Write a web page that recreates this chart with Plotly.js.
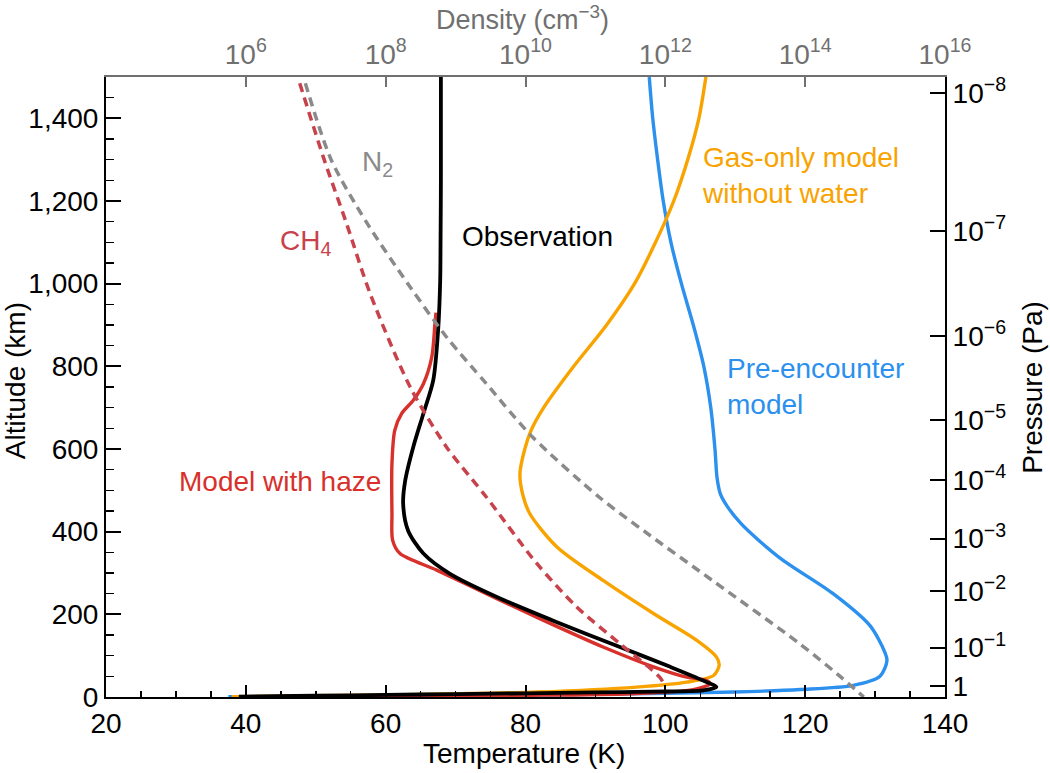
<!DOCTYPE html>
<html>
<head>
<meta charset="utf-8">
<script src="https://cdn.plot.ly/plotly-3.0.1.min.js"></script>
<style>html,body{margin:0;padding:0;background:#fff;}#chart{width:1050px;height:773px;}</style>
</head>
<body>
<div id="chart"></div>
<script>
// Temperature profiles (K) vs altitude (km)
const obsT   = [67.9, 67.9, 67.85, 67.8, 67.5, 66.8, 65.4, 63.95, 62.8, 62.5, 63.2, 65.4, 69.2, 75.9, 84.5, 93.5, 100.7, 105.4, 107.3, 105.4, 98, 90, 80, 70, 60, 50, 39];
const obsAlt = [1500, 1250, 1100, 1008, 887, 766, 686, 605, 524, 468, 403, 347, 298, 242, 181, 121, 73, 40, 24, 16, 13, 11, 9, 7, 5, 3, 1];

const hazeT   = [67.2, 67.05, 66.6, 65.4, 63.95, 62.3, 61.3, 60.9, 60.9, 61.0, 62.05, 67.3, 74.4, 82.5, 91.1, 98.3, 103.05, 105.9, 106.4, 104, 95, 80, 60, 45];
const hazeAlt = [930, 903, 823, 758, 718, 686, 645, 565, 444, 379, 347, 307, 250, 186, 121, 73, 48, 40, 32, 18, 8, 4, 2, 0.5];

const gasT   = [105.8, 104.8, 103.2, 101.2, 98.6, 95.6, 91.6, 86.9, 82.6, 80.8, 79.9, 79.2, 79.6, 80.6, 84.5, 91.1, 98.3, 104.5, 107.3, 107.7, 106.9, 103.05, 95.9, 81.6, 65, 50, 38];
const gasAlt = [1500, 1400, 1300, 1200, 1100, 1000, 900, 800, 700, 645, 600, 540, 490, 444, 363, 282, 202, 137, 97, 77, 52, 36, 24, 12, 6, 3, 1];

const preT   = [97.7, 98.2, 98.9, 99.7, 100.8, 102.3, 104.0, 105.5, 106.5, 107.1, 107.4, 107.9, 108.9, 110.8, 113.3, 116.9, 124.0, 129.3, 131.4, 131.7, 130.7, 126.9, 119.3, 109.7, 100, 80, 60, 37.5];
const preAlt = [1500, 1400, 1300, 1200, 1100, 1000, 900, 800, 700, 600, 530, 490, 460, 420, 380, 330, 250, 172, 108, 88, 50, 28, 18, 12, 9, 5, 2.5, 0.5];

// Number densities (cm^-3) vs altitude (km)
const ch4N   = [5.9e6, 1.32e7, 2.7e7, 6.0e7, 2.24e8, 7.4e8, 2.75e9, 1.45e10, 5.4e10, 2.24e11, 8.3e11, 1.0e12];
const ch4Alt = [1485, 1300, 1150, 976, 750, 605, 484, 323, 218, 129, 48, 25];

const n2N   = [7.1e6, 1.66e7, 5.25e7, 2.24e8, 7.4e8, 2.75e9, 1.26e10, 1.16e11, 5.1e11, 4.7e12, 7.9e13, 2.95e14, 6.9e14];
const n2Alt = [1485, 1300, 1150, 992, 871, 758, 629, 482, 400, 282, 132, 54, 0];

// Axis ticks
const tempTicks = [20, 40, 60, 80, 100, 120, 140];
const densTicks = [1e6, 1e8, 1e10, 1e12, 1e14, 1e16];
const densLabels = ['10<sup>6</sup>', '10<sup>8</sup>', '10<sup>10</sup>', '10<sup>12</sup>', '10<sup>14</sup>', '10<sup>16</sup>'];
const presAlt = [26, 119.6, 255.9, 383.4, 524.6, 670, 873, 1128, 1460.7];
const presLabels = ['1', '10<sup>−1</sup>', '10<sup>−2</sup>', '10<sup>−3</sup>', '10<sup>−4</sup>', '10<sup>−5</sup>', '10<sup>−6</sup>', '10<sup>−7</sup>', '10<sup>−8</sup>'];

const FONT = 'Liberation Sans, Arial, Helvetica, sans-serif';
const FS = 28;
const GRAY = '#8a8a8a';
const AXGRAY = '#707070';
const RED = '#d8302b';
const CH4C = '#c8424c';
const ORANGE = '#f8a300';
const BLUE = '#2b90ee';

const sp = {shape: 'spline', smoothing: 0.8};

const traces = [
  {x: n2N, y: n2Alt, xaxis: 'x2', yaxis: 'y', mode: 'lines', line: Object.assign({color: GRAY, width: 3.5, dash: '9px,6px'}, sp), hoverinfo: 'skip'},
  {x: ch4N, y: ch4Alt, xaxis: 'x2', yaxis: 'y', mode: 'lines', line: Object.assign({color: CH4C, width: 3.5, dash: '9px,6px'}, sp), hoverinfo: 'skip'},
  {x: preT, y: preAlt, xaxis: 'x', yaxis: 'y', mode: 'lines', line: Object.assign({color: BLUE, width: 3.4}, sp)},
  {x: gasT, y: gasAlt, xaxis: 'x', yaxis: 'y', mode: 'lines', line: Object.assign({color: ORANGE, width: 3.4}, sp)},
  {x: hazeT, y: hazeAlt, xaxis: 'x', yaxis: 'y', mode: 'lines', line: Object.assign({color: RED, width: 3.4}, sp)},
  {x: obsT, y: obsAlt, xaxis: 'x', yaxis: 'y', mode: 'lines', line: Object.assign({color: '#000', width: 3.8}, sp)},
  {x: [20], y: [0], xaxis: 'x', yaxis: 'y2', mode: 'markers', marker: {opacity: 0}, hoverinfo: 'skip'}
];

const txt = (text, x, y, color, xanchor) => ({
  text: text, x: x, y: y, xref: 'x', yref: 'y', showarrow: false,
  font: {family: FONT, size: FS, color: color}, xanchor: xanchor || 'left', yanchor: 'middle', align: 'left'
});

const layout = {
  width: 1050, height: 773,
  margin: {l: 106, r: 105, t: 77, b: 76},
  paper_bgcolor: '#fff', plot_bgcolor: '#fff',
  showlegend: false,
  font: {family: FONT, size: FS, color: '#000'},
  xaxis: {
    range: [20, 140], tickvals: tempTicks, ticks: 'inside', ticklen: 12, tickwidth: 2, tickcolor: '#000',
    showline: true, linewidth: 2, linecolor: '#000', showgrid: false, zeroline: false,
    minor: {dtick: 5, ticks: 'inside', ticklen: 6, tickwidth: 1.5, tickcolor: '#000', showgrid: false},
    tickfont: {family: FONT, size: FS, color: '#000'}
  },
  xaxis2: {
    type: 'log', range: [4, 16], overlaying: 'x', side: 'top', anchor: 'y',
    tickvals: densTicks, ticktext: densLabels, ticks: 'inside', ticklen: 10, tickwidth: 2, tickcolor: AXGRAY,
    showline: true, linewidth: 2, linecolor: AXGRAY, showgrid: false, zeroline: false,
    tickfont: {family: FONT, size: FS, color: AXGRAY}
  },
  yaxis: {
    range: [0, 1500], dtick: 200, tick0: 0, tickformat: ',d', ticks: 'inside', ticklen: 15, tickwidth: 2, tickcolor: '#000',
    showline: true, linewidth: 2, linecolor: '#000', showgrid: false, zeroline: false,
    minor: {dtick: 50, ticks: 'inside', ticklen: 8, tickwidth: 1.5, tickcolor: '#000', showgrid: false},
    tickfont: {family: FONT, size: FS, color: '#000'}
  },
  yaxis2: {
    range: [0, 1500], overlaying: 'y', side: 'right', anchor: 'x',
    tickvals: presAlt, ticktext: presLabels, ticks: 'inside', ticklen: 15, tickwidth: 2, tickcolor: '#000',
    showline: true, linewidth: 2, linecolor: '#000', showgrid: false, zeroline: false,
    tickfont: {family: FONT, size: FS, color: '#000'}
  },
  annotations: [
    {text: 'Density (cm<sup>−3</sup>)', xref: 'paper', yref: 'paper', x: 0.497, y: 1.1235, showarrow: false,
     font: {family: FONT, size: 27, color: AXGRAY}, xanchor: 'center', yanchor: 'top', borderpad: 0},
    {text: 'Temperature (K)', xref: 'paper', yref: 'paper', x: 0.498, y: -0.0905, showarrow: false,
     font: {family: FONT, size: FS, color: '#000'}, xanchor: 'center', yanchor: 'middle'},
    {text: 'Altitude (km)', xref: 'paper', yref: 'paper', x: -0.108, y: 0.51, showarrow: false, textangle: -90,
     font: {family: FONT, size: FS, color: '#000'}, xanchor: 'center', yanchor: 'middle'},
    {text: 'Pressure (Pa)', xref: 'paper', yref: 'paper', x: 1.1035, y: 0.5, showarrow: false, textangle: -90,
     font: {family: FONT, size: FS, color: '#000'}, xanchor: 'center', yanchor: 'middle'},
    txt('N<sub>2</sub>', 58.9, 1291, GRAY, 'center'),
    txt('CH<sub>4</sub>', 48.5, 1100, CH4C, 'center'),
    txt('Observation', 70.6, 1114, '#000', 'left'),
    txt('Gas-only model<br>without water', 104.9, 1262, ORANGE, 'left'),
    txt('Pre-encounter<br>model', 108.5, 751, BLUE, 'left'),
    txt('Model with haze', 59.6, 522, RED, 'right')
  ]
};

Plotly.newPlot('chart', traces, layout, {displayModeBar: false, staticPlot: true});
</script>
</body>
</html>
